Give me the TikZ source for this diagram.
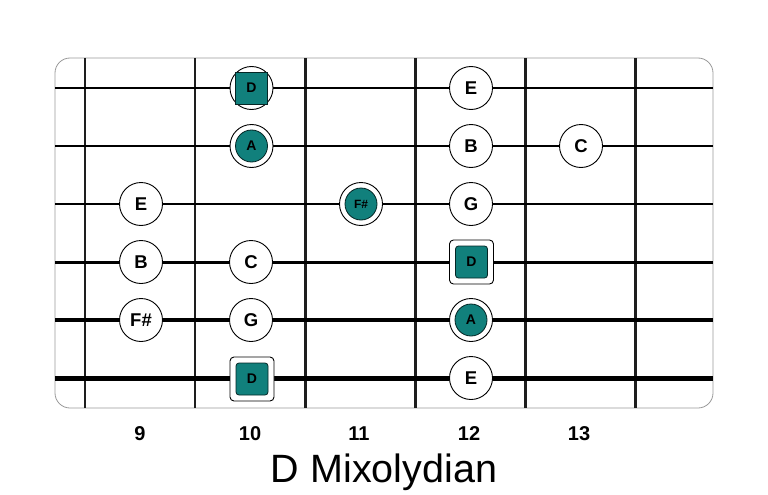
\documentclass[tikz,border=0pt]{standalone}
\usepackage{fontspec}
\setmainfont{Liberation Sans}
\definecolor{teal1}{RGB}{17,128,124}
\definecolor{fretc}{RGB}{30,30,30}
\begin{document}
\begin{tikzpicture}[x=1pt,y=-1pt,
  fretline/.style={line width=2.6pt,draw=fretc},
  strline/.style={draw=black},
  note/.style={circle,draw=black,fill=white,line width=0.9pt,minimum size=43pt,inner sep=0pt,font=\fontsize{18.5}{18.5}\selectfont\bfseries},
  outsq/.style={rectangle,rounded corners=4pt,draw=black,fill=white,line width=0.9pt,minimum size=44pt,inner sep=0pt},
  insq/.style={rectangle,rounded corners=3pt,draw=black!70!teal1,fill=teal1,line width=0.8pt,minimum size=32pt,inner sep=0pt,font=\fontsize{14}{14}\selectfont\bfseries},
  topsq/.style={rectangle,draw=black!70!teal1,fill=teal1,line width=0.8pt,minimum size=32pt,inner sep=0pt,font=\fontsize{14}{14}\selectfont\bfseries},
  incirc/.style={circle,draw=black!70!teal1,fill=teal1,line width=0.8pt,minimum size=32pt,inner sep=0pt,font=\fontsize{14}{14}\selectfont\bfseries},
  fretnum/.style={font=\fontsize{20}{20}\selectfont\bfseries,anchor=base},
  title/.style={font=\fontsize{39.5}{39.5}\selectfont,anchor=base}]
\useasboundingbox (0,0) rectangle (768,495);
% board
\node[draw=gray!80,line width=0.8pt,rounded corners=15pt,minimum width=658pt,minimum height=350pt,inner sep=0pt] (board) at (384,233) {};
% frets
\foreach \x [count=\i] in {85,195,305.5,415.5,525.5,635.5}
  \draw[fretline] (\x,58) coordinate (ft\i) -- (\x,408) coordinate (fb\i);
% strings
\foreach \y/\w [count=\i] in {88/1.3,146/1.7,204/2.2,262/3,320/4,378/5}{
  \coordinate (sl\i) at (55,\y);
  \coordinate (sr\i) at (713,\y);
  \draw[strline,line width=\w pt] (sl\i) -- (sr\i);
}
% string 1
\node[note] (s1f10) at (251.5,88) {};
\node[topsq] (s1f10i) at (251.5,88) {D};
\node[note] (s1f12) at (471,88) {E};
% string 2
\node[note] (s2f10) at (251.5,146) {};
\node[incirc] (s2f10i) at (251.5,146) {A};
\node[note] (s2f12) at (471,146) {B};
\node[note] (s2f13) at (581,146) {C};
% string 3
\node[note] (s3f9) at (141,204) {E};
\node[note] (s3f11) at (361,204) {};
\node[incirc,font=\fontsize{12}{12}\selectfont\bfseries] (s3f11i) at (361,204) {F\#};
\node[note] (s3f12) at (471,204) {G};
% string 4
\node[note] (s4f9) at (141,262) {B};
\node[note] (s4f10) at (251,262) {C};
\node[outsq] (s4f12) at (471.5,262) {};
\node[insq] (s4f12i) at (471.5,262) {D};
% string 5
\node[note] (s5f9) at (141,320) {F\#};
\node[note] (s5f10) at (251,320) {G};
\node[note] (s5f12) at (471,320) {};
\node[incirc] (s5f12i) at (471,320) {A};
% string 6
\node[outsq] (s6f10) at (252,379) {};
\node[insq] (s6f10i) at (252,379) {D};
\node[note] (s6f12) at (471,378) {E};
% fret numbers
\node[fretnum] (n9) at (140,440) {9};
\node[fretnum] (n10) at (250,440) {10};
\node[fretnum] (n11) at (359,440) {11};
\node[fretnum] (n12) at (469,440) {12};
\node[fretnum] (n13) at (579,440) {13};
% title
\node[title] (ttl) at (384,482) {D Mixolydian};
\end{tikzpicture}
\end{document}
